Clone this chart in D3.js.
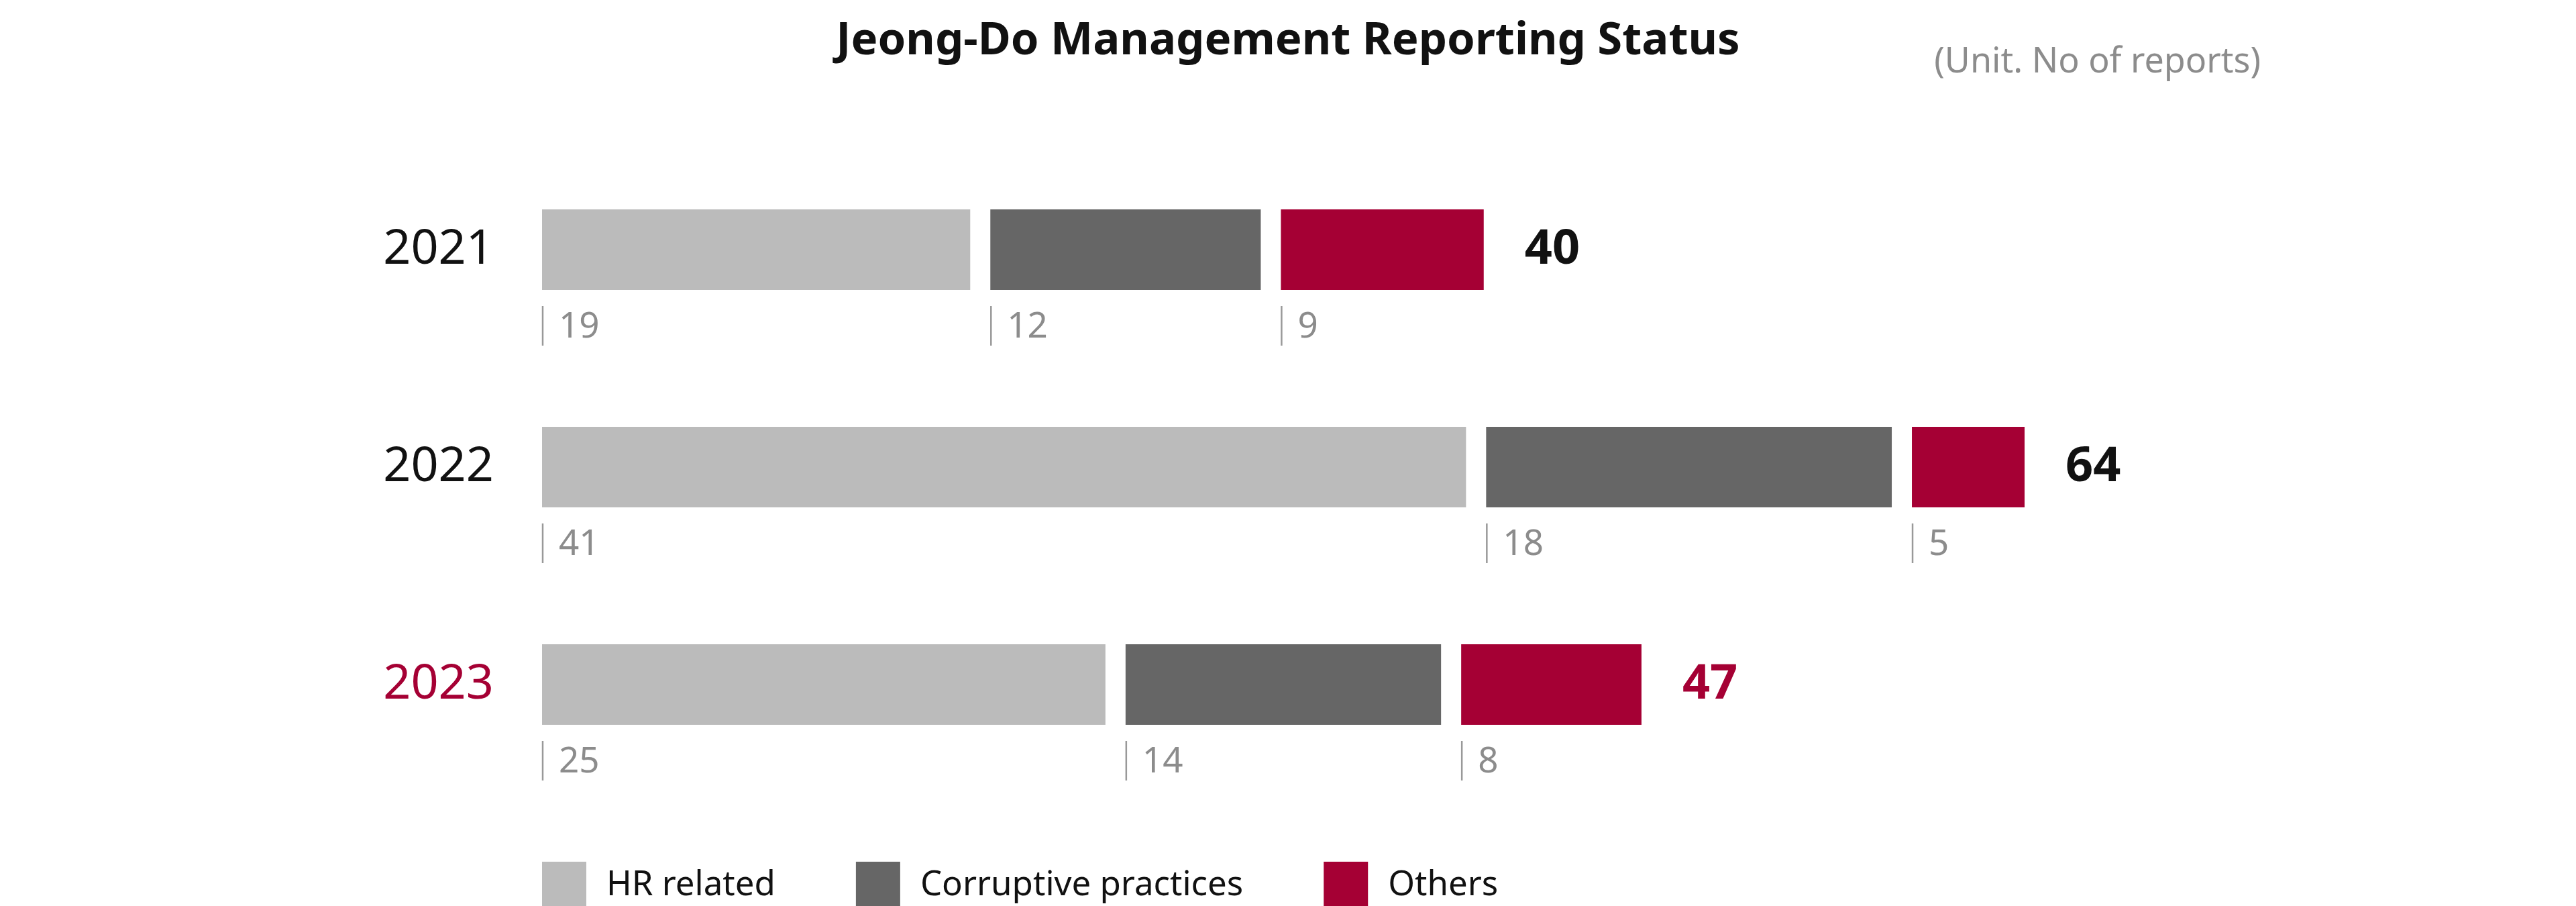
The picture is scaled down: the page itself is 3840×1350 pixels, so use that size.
<!DOCTYPE html>
<html>
<head>
<meta charset="utf-8">
<script src="https://cdn.jsdelivr.net/npm/d3@7"></script>
<style>
  body { margin: 0; background: #fff; }
  text { font-family: "Noto Sans", "Open Sans", sans-serif; }
</style>
</head>
<body>
<script>
const svgWidth = 3840,
    svgHeight = 1350;

// data
const years = ["2021", "2022", "2023"];
const seriesNames = ["HR related", "Corruptive practices", "Others"];
const hrRelated = [19, 41, 25];
const corruptive = [12, 18, 14];
const others = [9, 5, 8];
const totals = [40, 64, 47];
const colors = ["#bbbbbb", "#666666", "#a50034"];
const highlightYear = "2023";

const barLeft = 808,
    barHeight = 120,
    gap = 30;

var rows = years.map(function (yr, i) {
    return { year: yr, hr: hrRelated[i], corr: corruptive[i], oth: others[i], total: totals[i] };
});
var keys = ["hr", "corr", "oth"];

var svg = d3.select("body").append("svg")
    .attr("width", svgWidth)
    .attr("height", svgHeight);

var x = d3.scaleLinear()
    .domain([0, d3.max(totals)])
    .range([0, 2150]);

var y = d3.scalePoint()
    .domain(years)
    .range([312, 960]);

var color = d3.scaleOrdinal().domain(keys).range(colors);

var stacked = d3.stack().keys(keys)(rows);

// title + unit
svg.append("text")
    .attr("x", svgWidth / 2)
    .attr("y", 81)
    .attr("text-anchor", "middle")
    .attr("font-size", 67)
    .attr("font-weight", "bold")
    .attr("fill", "#111")
    .text("Jeong-Do Management Reporting Status");

svg.append("text")
    .attr("x", 3370)
    .attr("y", 108)
    .attr("text-anchor", "end")
    .attr("font-size", 52)
    .attr("fill", "#8c8c8c")
    .text("(Unit. No of reports)");

// segment start, with a fixed gap between segments
function segX(d, i) { return barLeft + x(d[0]) + i * gap; }

var layers = svg.append("g").attr("class", "bars")
    .selectAll("g")
    .data(stacked).enter()
    .append("g")
    .attr("fill", function (s) { return color(s.key); });

layers.selectAll("rect")
    .data(function (s, i) { return s.map(function (d) { return { d: d, i: i }; }); })
    .enter().append("rect")
    .attr("x", function (o) { return segX(o.d, o.i); })
    .attr("y", function (o) { return y(o.d.data.year); })
    .attr("width", function (o) { return x(o.d[1]) - x(o.d[0]); })
    .attr("height", barHeight);

// little tick + value under each segment
var ticks = svg.append("g").attr("class", "ticks")
    .selectAll("g")
    .data(stacked.flatMap(function (s, i) {
        return s.map(function (d) { return { d: d, i: i, v: d[1] - d[0] }; });
    }))
    .enter().append("g")
    .attr("transform", function (o) {
        return "translate(" + segX(o.d, o.i) + "," + (y(o.d.data.year) + barHeight) + ")";
    });

ticks.append("line")
    .attr("x1", 1).attr("x2", 1)
    .attr("y1", 24).attr("y2", 83)
    .attr("stroke", "#999")
    .attr("stroke-width", 2.5);

ticks.append("text")
    .attr("x", 25)
    .attr("y", 71)
    .attr("font-size", 53)
    .attr("fill", "#8c8c8c")
    .text(function (o) { return o.v; });

// year labels and totals
svg.append("g").selectAll("text")
    .data(rows).enter()
    .append("text")
    .attr("x", 736)
    .attr("y", function (d) { return y(d.year) + 81; })
    .attr("text-anchor", "end")
    .attr("font-size", 72)
    .attr("fill", function (d) { return d.year === highlightYear ? "#a50034" : "#111"; })
    .text(function (d) { return d.year; });

svg.append("g").selectAll("text")
    .data(rows).enter()
    .append("text")
    .attr("x", function (d) { return barLeft + x(d.total) + 2 * gap + 61; })
    .attr("y", function (d) { return y(d.year) + 81; })
    .attr("font-size", 72)
    .attr("font-weight", "bold")
    .attr("fill", function (d) { return d.year === highlightYear ? "#a50034" : "#111"; })
    .text(function (d) { return d.total; });

// legend
var legend = svg.append("g").attr("class", "legend");
var lx = barLeft;
seriesNames.forEach(function (name, i) {
    var item = legend.append("g").attr("transform", "translate(" + lx + ",1284)");
    item.append("rect")
        .attr("width", 66).attr("height", 66)
        .attr("fill", colors[i]);
    var t = item.append("text")
        .attr("x", 96)
        .attr("y", 50)
        .attr("font-size", 51)
        .attr("fill", "#111")
        .text(name);
    lx += 96 + t.node().getComputedTextLength() + 120;
});
</script>
</body>
</html>
